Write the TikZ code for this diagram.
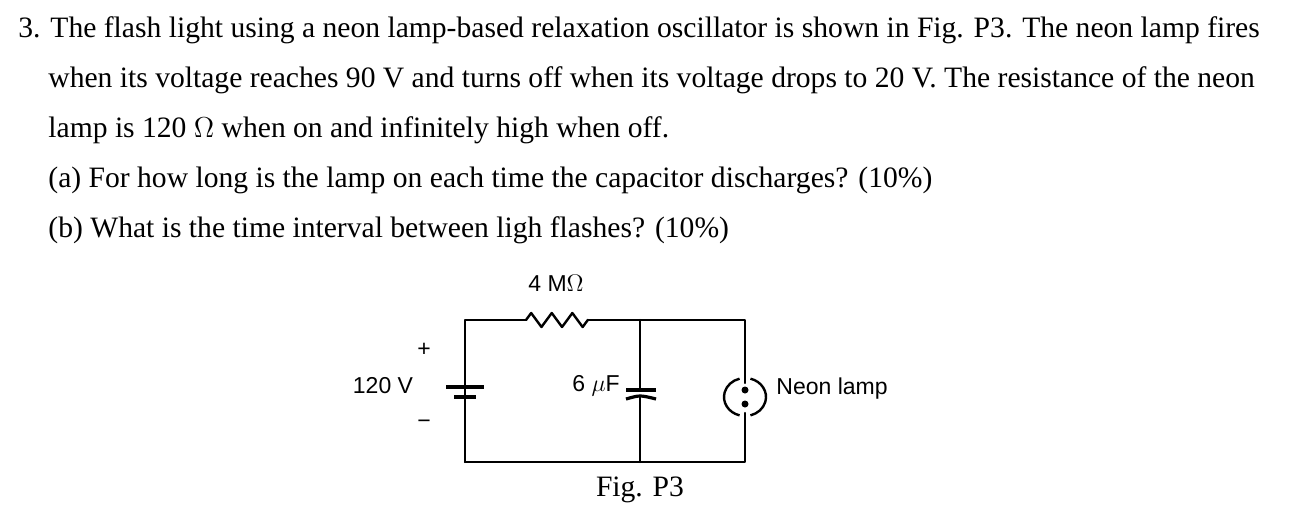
\documentclass[tikz,border=0pt]{standalone}
\usepackage{fontspec}
\setmainfont{Liberation Serif}
\newfontfamily\circfont{Liberation Sans}
\usetikzlibrary{decorations.pathmorphing}
\begin{document}
\begin{tikzpicture}[x=0.5pt,y=-0.5pt,
  txt/.style={anchor=west,inner sep=0pt,font=\fontsize{14.8}{17}\selectfont},
  clab/.style={inner sep=0pt,font=\circfont\fontsize{11.5}{13}\selectfont},
  wire/.style={line width=1.2pt,line cap=round,line join=round}]
\useasboundingbox (0,0) rectangle (1310,526);
\node[txt] (l1) at (18,30) {3. The flash light using a neon lamp-based relaxation oscillator is shown in Fig. P3. The neon lamp fires};
\node[txt] (l2) at (48,80) {when its voltage reaches 90 V and turns off when its voltage drops to 20 V. The resistance of the neon};
\node[txt] (l3) at (48,130) {lamp is 120 $\Omega$ when on and infinitely high when off.};
\node[txt] (l4) at (48,180) {(a) For how long is the lamp on each time the capacitor discharges? (10\%)};
\node[txt] (l5) at (48,230) {(b) What is the time interval between ligh flashes? (10\%)};
% coordinates
\coordinate (tl) at (465,320);
\coordinate (bl) at (465,462);
\coordinate (r1) at (526,320);
\coordinate (r2) at (588,320);
\coordinate (tc) at (640,320);
\coordinate (bc) at (640,462);
\coordinate (tr) at (745,320);
\coordinate (br) at (745,462);
\coordinate (lc) at (745,397);
% wires
\draw[wire] (bl) -- (465,387);
\draw[wire] (465,397) -- (tl) -- (r1);
\draw[wire,decorate,decoration={zigzag,segment length=10.3pt,amplitude=3.5pt}] (r1) -- (r2);
\draw[wire] (r2) -- (tr) -- (745,383);
\draw[wire] (tc) -- (640,390);
\draw[wire] (640,396) -- (bc);
\draw[wire] (bl) -- (br) -- (745,413);
% battery
\draw[line width=1.6pt] (446,387) -- (484,387);
\draw[line width=2pt] (454,397) -- (476,397);
% capacitor
\draw[line width=1.6pt] (626,390) -- (656,390);
\draw[line width=1.6pt] (626,399) .. controls (640,395) .. (656,399);
% lamp
\draw[line width=1.2pt] ([shift={(lc)}]-75:21 and 19) arc[start angle=-75,end angle=75,x radius=21,y radius=19];
\draw[line width=1.2pt] ([shift={(lc)}]105:21 and 19) arc[start angle=105,end angle=255,x radius=21,y radius=19];
\fill (745,390) circle (3.5);
\fill (745,404) circle (3.5);
% labels
\node[clab] (rl) at (556,283) {4 M$\Omega$};
\node[clab] (pl) at (424,350) {+};
\node[clab] (vl) at (383,386) {120 V};
\node[clab] (ml) at (424,424) {\textminus};
\node[clab] (cl) at (596,386) {6 $\mu$F};
\node[clab,anchor=west] (nl) at (776,389) {Neon lamp};
\node[txt,anchor=center] (fig) at (640,490) {Fig. P3};
\end{tikzpicture}
\end{document}
